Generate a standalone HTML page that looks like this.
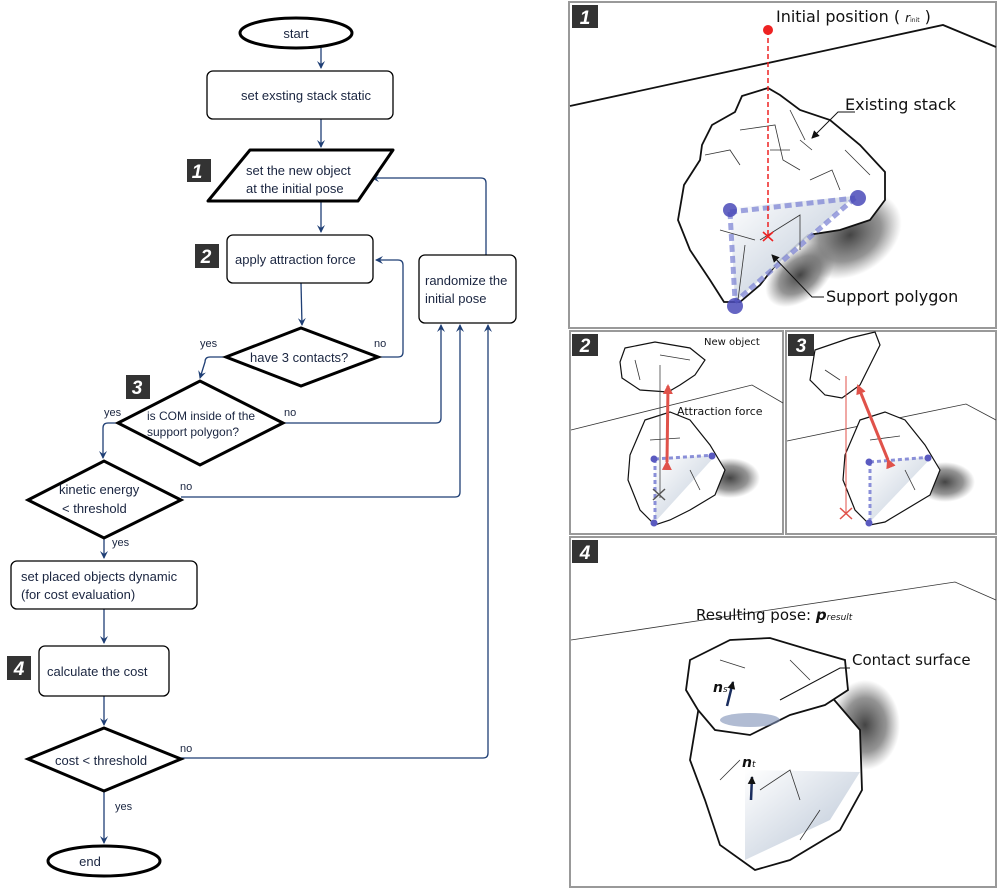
<!DOCTYPE html>
<html><head><meta charset="utf-8"><style>
html,body{margin:0;padding:0;background:#fff;}
svg{display:block;font-family:"Liberation Sans",Arial,sans-serif;}
.t{font-size:13px;fill:#1a2540;}
.s{font-size:11px;fill:#1a2540;}
.ln{stroke:#1f3f75;stroke-width:1.3;fill:none;}
.bx{fill:#fff;stroke:#000;stroke-width:1.3;}
.bd{fill:#fff;stroke:#000;stroke-width:3;}
.bg{fill:#333;}
.bgt{font-size:19px;font-weight:bold;font-style:italic;fill:#fff;}
.rk{fill:#fff;stroke:#111;stroke-width:1.8;}
.cr{stroke:#333;stroke-width:.8;fill:none;}
.lab{font-family:"DejaVu Sans",sans-serif;fill:#111;}
</style></head><body>
<svg width="1000" height="893" viewBox="0 0 1000 893">
<defs>
<marker id="a" markerWidth="8" markerHeight="8" refX="7" refY="4" orient="auto" markerUnits="userSpaceOnUse"><path d="M0,0 L8,4 L0,8 L3,4 z" fill="#1f3f75"/></marker>
<marker id="k" markerWidth="8" markerHeight="8" refX="7" refY="4" orient="auto" markerUnits="userSpaceOnUse"><path d="M0,0 L8,4 L0,8 z" fill="#111"/></marker>
<marker id="r" markerWidth="10" markerHeight="10" refX="8" refY="5" orient="auto" markerUnits="userSpaceOnUse"><path d="M0,0 L10,5 L0,10 z" fill="#e0524a"/></marker>
<linearGradient id="g" x1="0" y1="0" x2="1" y2="1"><stop offset="0" stop-color="#fff"/><stop offset="1" stop-color="#a9b8cc"/></linearGradient>
<radialGradient id="sh"><stop offset="0" stop-color="#444"/><stop offset="0.6" stop-color="#666" stop-opacity=".7"/><stop offset="1" stop-color="#777" stop-opacity="0"/></radialGradient>
</defs>

<!-- connectors -->
<path class="ln" d="M321,48 V68" marker-end="url(#a)"/>
<path class="ln" d="M321,119 V147" marker-end="url(#a)"/>
<path class="ln" d="M321,201 V232" marker-end="url(#a)"/>
<path class="ln" d="M301,283 L302,325" marker-end="url(#a)"/>
<path class="ln" d="M486,255 V183 Q486,178 481,178 H372" marker-end="url(#a)"/>
<path class="ln" d="M378,357 H398 Q403,357 403,352 V265 Q403,260 398,260 H376" marker-end="url(#a)"/>
<path class="ln" d="M225,357 H210 Q205,357 205,362 L200,378" marker-end="url(#a)"/>
<path class="ln" d="M283,423 H436 Q441,423 441,418 V325" marker-end="url(#a)"/>
<path class="ln" d="M181,497 H455 Q460,497 460,492 V325" marker-end="url(#a)"/>
<path class="ln" d="M181,758 H483 Q488,758 488,753 V325" marker-end="url(#a)"/>
<path class="ln" d="M117,423 H108 Q103,423 103,428 V458" marker-end="url(#a)"/>
<path class="ln" d="M104,538 V558" marker-end="url(#a)"/>
<path class="ln" d="M104,609 V643" marker-end="url(#a)"/>
<path class="ln" d="M104,696 V725" marker-end="url(#a)"/>
<path class="ln" d="M104,791 V843" marker-end="url(#a)"/>

<!-- nodes -->
<ellipse class="bd" cx="296" cy="33" rx="56" ry="15"/>
<text class="t" x="296" y="38" text-anchor="middle">start</text>
<rect class="bx" x="207" y="71" width="186" height="48" rx="6"/>
<text class="t" x="306" y="100" text-anchor="middle">set exsting stack static</text>
<path class="bd" d="M250,150 H393 L358,201 H208 Z" stroke-linejoin="round"/>
<text class="t" x="246" y="175">set the new object</text>
<text class="t" x="246" y="193">at the initial pose</text>
<rect class="bg" x="187" y="159" width="24" height="23"/><text class="bgt" x="197" y="178" text-anchor="middle">1</text>
<rect class="bx" x="227" y="235" width="146" height="48" rx="6"/>
<text class="t" x="235" y="264">apply attraction force</text>
<rect class="bg" x="195" y="244" width="24" height="24"/><text class="bgt" x="206" y="263" text-anchor="middle">2</text>
<rect class="bx" x="419" y="255" width="97" height="68" rx="6"/>
<text class="t" x="425" y="285">randomize the</text>
<text class="t" x="425" y="303">initial pose</text>
<path class="bd" d="M226,357 L301,328 L378,357 L301,386 Z"/>
<text class="t" x="250" y="362">have 3 contacts?</text>
<text class="s" x="200" y="347">yes</text><text class="s" x="374" y="347">no</text>
<rect class="bg" x="126" y="375" width="24" height="24"/><text class="bgt" x="137" y="394" text-anchor="middle">3</text>
<path class="bd" d="M118,423 L200,381 L283,423 L200,465 Z"/>
<text class="s" x="147" y="420" style="font-size:12px">is COM inside of the</text>
<text class="s" x="147" y="436" style="font-size:12px">support polygon?</text>
<text class="s" x="104" y="416">yes</text><text class="s" x="284" y="416">no</text>
<path class="bd" d="M28,500 L104,461 L181,500 L104,538 Z"/>
<text class="t" x="59" y="494">kinetic energy</text>
<text class="t" x="62" y="513">&lt; threshold</text>
<text class="s" x="180" y="490">no</text><text class="s" x="112" y="546">yes</text>
<rect class="bx" x="11" y="561" width="186" height="48" rx="6"/>
<text class="t" x="21" y="581">set placed objects dynamic</text>
<text class="t" x="21" y="599">(for cost evaluation)</text>
<rect class="bx" x="39" y="646" width="130" height="50" rx="6"/>
<text class="t" x="47" y="676">calculate the cost</text>
<rect class="bg" x="7" y="656" width="24" height="24"/><text class="bgt" x="19" y="675" text-anchor="middle">4</text>
<path class="bd" d="M28,759 L104,728 L181,759 L104,791 Z"/>
<text class="t" x="55" y="765">cost &lt; threshold</text>
<text class="s" x="180" y="752">no</text><text class="s" x="115" y="810">yes</text>
<ellipse class="bd" cx="104" cy="861" rx="56" ry="15"/>
<text class="t" x="90" y="866" text-anchor="middle">end</text>

<!-- right panels -->
<g fill="none" stroke="#999" stroke-width="2">
<rect x="569" y="2" width="427" height="326"/>
<rect x="570" y="331" width="213" height="203"/>
<rect x="786" y="331" width="210" height="203"/>
<rect x="570" y="537" width="426" height="350"/>
</g>
<!-- panel 1 -->
<rect class="bg" x="572" y="5" width="26" height="23"/><text class="bgt" x="585" y="24" text-anchor="middle">1</text>
<path d="M570,106 L943,25 L996,47" stroke="#111" stroke-width="1.8" fill="none"/>
<ellipse cx="850" cy="235" rx="55" ry="40" fill="url(#sh)" transform="rotate(-30 850 235)"/>
<ellipse cx="800" cy="275" rx="40" ry="25" fill="url(#sh)" transform="rotate(-40 800 275)"/>
<path class="rk" d="M768,88 L742,96 L735,112 L712,125 L702,145 L700,160 L684,185 L678,220 L690,250 L710,280 L724,302 L740,302 L760,285 L778,262 L808,235 L840,230 L870,220 L885,200 L885,172 L860,145 L830,120 L800,110 L780,95 Z"/>
<path d="M730,208 L855,196 L735,302 Z" fill="url(#g)" opacity=".9"/>
<path d="M730,212 L855,198 M730,212 L735,300 M855,198 L735,302" stroke="#7f86d4" stroke-width="5" stroke-dasharray="7,4" fill="none" opacity=".75"/>
<circle cx="730" cy="210" r="7" fill="#4a4ab8" opacity=".85"/><circle cx="858" cy="198" r="8" fill="#4a4ab8" opacity=".85"/><circle cx="735" cy="306" r="8" fill="#4a4ab8" opacity=".85"/>
<g class="cr"><path d="M740,130 L775,125 L783,160 L800,170 M705,155 L730,150 L740,165 M790,110 L805,140 M810,180 L832,170 L840,190 M760,240 L800,215 L800,250 M720,230 L755,240 M770,150 L790,150 M800,140 L812,150 M745,245 L738,300 M845,150 L870,175"/></g>
<line x1="768" y1="30" x2="768" y2="236" stroke="#e22" stroke-width="1.5" stroke-dasharray="5,3"/>
<circle cx="768" cy="30" r="5" fill="#e22"/>
<path d="M763,232 L773,241 M773,232 L763,241" stroke="#e22" stroke-width="1.6"/>
<text class="lab" x="776" y="22" font-size="16">Initial position ( <tspan font-style="italic" font-size="12">r</tspan><tspan font-size="6">init</tspan> )</text>
<text class="lab" x="845" y="110" font-size="16">Existing stack</text>
<path d="M855,112 L838,112 L812,138" stroke="#111" stroke-width="1" fill="none" marker-end="url(#k)"/>
<text class="lab" x="826" y="302" font-size="16">Support polygon</text>
<path d="M824,297 L812,297 L772,255" stroke="#111" stroke-width="1" fill="none" marker-end="url(#k)"/>
<!-- panel 2 -->
<rect class="bg" x="572" y="334" width="26" height="22"/><text class="bgt" x="585" y="352" text-anchor="middle">2</text>
<path d="M571,430 L752,385 L783,403" stroke="#333" stroke-width=".8" fill="none"/>
<ellipse cx="730" cy="478" rx="30" ry="20" fill="url(#sh)"/>
<path class="rk" style="stroke-width:1.2" d="M625,348 L655,342 L690,348 L705,360 L695,375 L680,385 L668,392 L640,390 L622,378 L620,362 Z"/>
<path class="rk" style="stroke-width:1.2" d="M645,420 L670,412 L690,420 L710,445 L725,470 L715,495 L690,510 L670,520 L655,525 L640,510 L628,480 L630,455 Z"/>
<path d="M655,459 L716,455 L655,522 Z" fill="url(#g)" opacity=".8"/>
<path d="M655,459 L716,455 M655,459 L655,522" stroke="#8a8fd8" stroke-width="3" stroke-dasharray="4,3"/>
<circle cx="654" cy="459" r="3.5" fill="#5a5ac0"/><circle cx="712" cy="456" r="3.5" fill="#5a5ac0"/><circle cx="654" cy="523" r="3.5" fill="#5a5ac0"/>
<g class="cr"><path d="M635,360 L640,380 M660,355 L690,360 M650,440 L680,438 M690,470 L700,490"/></g>
<line x1="660" y1="365" x2="660" y2="498" stroke="#444" stroke-width=".8"/>
<path d="M653,489 L665,500 M665,489 L653,500" stroke="#555" stroke-width="1.5"/>
<path d="M667,462 L668,386" stroke="#e0524a" stroke-width="3" marker-end="url(#r)" marker-start="url(#r)"/>
<text class="lab" x="704" y="345" font-size="10">New object</text>
<text class="lab" x="677" y="415" font-size="11">Attraction force</text>
<!-- panel 3 -->
<rect class="bg" x="788" y="334" width="26" height="22"/><text class="bgt" x="801" y="352" text-anchor="middle">3</text>
<path d="M787,441 L966,404 L996,420" stroke="#333" stroke-width=".8" fill="none"/>
<ellipse cx="945" cy="482" rx="30" ry="20" fill="url(#sh)"/>
<path class="rk" style="stroke-width:1.2" d="M815,350 L850,338 L875,332 L880,345 L870,365 L860,385 L842,398 L825,395 L810,380 Z"/>
<path class="rk" style="stroke-width:1.2" d="M860,420 L885,412 L905,420 L925,445 L940,470 L930,495 L905,510 L885,522 L870,525 L855,510 L843,480 L845,455 Z"/>
<path d="M870,462 L932,457 L870,522 Z" fill="url(#g)" opacity=".8"/>
<path d="M870,462 L932,457 M870,462 L870,522" stroke="#8a8fd8" stroke-width="3" stroke-dasharray="4,3"/>
<circle cx="869" cy="462" r="3.5" fill="#5a5ac0"/><circle cx="928" cy="458" r="3.5" fill="#5a5ac0"/><circle cx="869" cy="523" r="3.5" fill="#5a5ac0"/>
<g class="cr"><path d="M870,440 L900,436 M905,470 L915,490 M825,370 L840,380"/></g>
<line x1="846" y1="376" x2="846" y2="513" stroke="#e0524a" stroke-width="1"/>
<path d="M840,508 L852,519 M852,508 L840,519" stroke="#e0524a" stroke-width="1.5"/>
<path d="M888,460 L858,386" stroke="#e0524a" stroke-width="3" marker-end="url(#r)" marker-start="url(#r)"/>
<!-- panel 4 -->
<rect class="bg" x="572" y="540" width="26" height="23"/><text class="bgt" x="585" y="559" text-anchor="middle">4</text>
<path d="M571,640 L955,582 L996,600" stroke="#333" stroke-width=".8" fill="none"/>
<ellipse cx="865" cy="725" rx="35" ry="45" fill="url(#sh)"/>
<path class="rk" d="M700,700 L740,690 L790,690 L830,695 L860,730 L862,790 L840,830 L790,860 L755,870 L720,845 L705,800 L690,760 Z"/>
<path d="M745,770 L860,772 L830,820 L745,860 Z" fill="url(#g)" opacity=".85"/>
<path class="rk" d="M690,660 L730,640 L770,638 L810,650 L845,660 L848,690 L825,705 L790,715 L750,735 L715,730 L698,710 L686,690 Z"/>
<ellipse cx="750" cy="720" rx="30" ry="7" fill="#7d8fb5" opacity=".6"/>
<g class="cr"><path d="M720,660 L745,668 M790,660 L810,680 M760,790 L790,770 L800,800 M720,780 L740,760 M800,840 L820,810"/></g>
<path d="M727,706 L733,682" stroke="#1a2d5e" stroke-width="2.5" marker-end="url(#k)"/>
<path d="M751,800 L752,777" stroke="#1a2d5e" stroke-width="2.5" marker-end="url(#k)"/>
<text class="lab" x="713" y="692" font-size="14" font-weight="bold" font-style="italic">n<tspan font-size="9" font-weight="normal">s</tspan></text>
<text class="lab" x="742" y="767" font-size="14" font-weight="bold" font-style="italic">n<tspan font-size="9" font-weight="normal">t</tspan></text>
<text class="lab" x="696" y="620" font-size="15">Resulting pose: <tspan font-weight="bold" font-style="italic">p</tspan><tspan font-size="9" font-style="italic">result</tspan></text>
<text class="lab" x="852" y="665" font-size="15">Contact surface</text>
<path d="M850,668 L840,668 L780,700" stroke="#111" stroke-width="1" fill="none"/>
</svg>
</body></html>
